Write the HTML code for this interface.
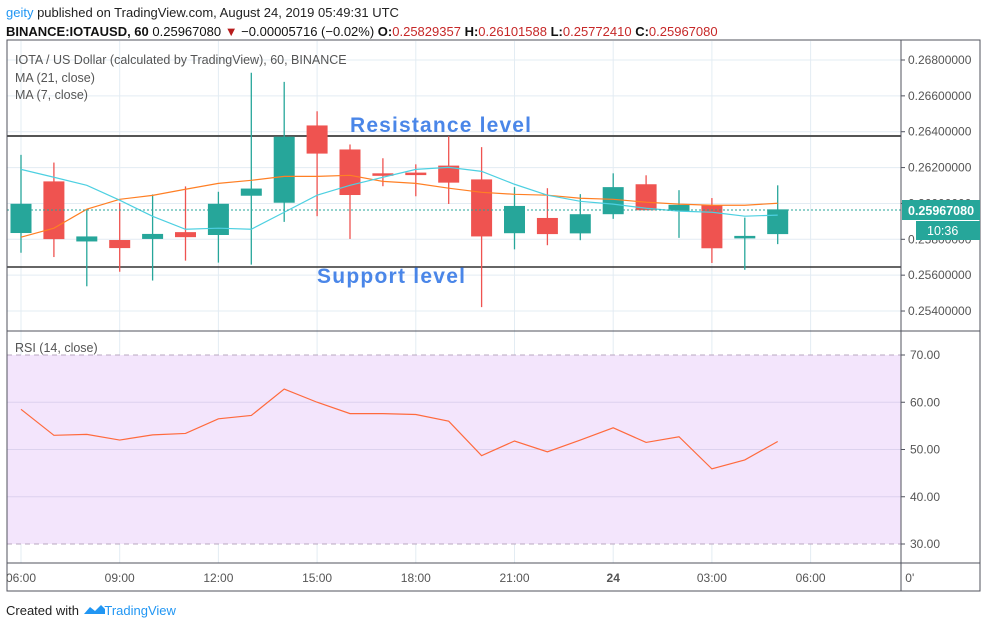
<!DOCTYPE html>
<html><head><meta charset="utf-8"><style>
body{margin:0;background:#fff;font-family:"Liberation Sans",sans-serif;}
svg text{font-family:"Liberation Sans",sans-serif;}
</style></head><body>
<svg id="c" width="987" height="628" xmlns="http://www.w3.org/2000/svg">
<rect width="987" height="628" fill="#fff"/>
<text x="6" y="17" font-size="13" fill="#222"><tspan fill="#2196f3">geity</tspan> published on TradingView.com, August 24, 2019 05:49:31 UTC</text>
<text x="6" y="36" font-size="13" fill="#111"><tspan font-weight="bold">BINANCE:IOTAUSD, 60</tspan> 0.25967080 <tspan fill="#b71c1c">▼</tspan> −0.00005716 (−0.02%) <tspan font-weight="bold">O:</tspan><tspan fill="#c62828">0.25829357</tspan> <tspan font-weight="bold">H:</tspan><tspan fill="#c62828">0.26101588</tspan> <tspan font-weight="bold">L:</tspan><tspan fill="#c62828">0.25772410</tspan> <tspan font-weight="bold">C:</tspan><tspan fill="#c62828">0.25967080</tspan></text>
<g id="grid"></g>
<rect x="7" y="355" width="894" height="189" fill="#f3e5fc"/>
<g id="grid2"></g>
<line x1="7" y1="355" x2="901" y2="355" stroke="#b9a8c0" stroke-dasharray="5,4"/>
<line x1="7" y1="544" x2="901" y2="544" stroke="#b9a8c0" stroke-dasharray="5,4"/>
<line x1="7" y1="136" x2="901" y2="136" stroke="#555" stroke-width="2"/>
<line x1="7" y1="267" x2="901" y2="267" stroke="#333" stroke-width="1.5"/>
<g id="marks"></g>
<line x1="7" y1="210" x2="901" y2="210" stroke="#26a69a" stroke-dasharray="2,2"/>
<text x="350" y="132" font-size="21" font-weight="bold" fill="#4a86e8" textLength="181" lengthAdjust="spacing">Resistance level</text>
<text x="317" y="283" font-size="21" font-weight="bold" fill="#4a86e8" textLength="148" lengthAdjust="spacing">Support level</text>
<text x="15" y="64" font-size="12.5" fill="#555">IOTA / US Dollar (calculated by TradingView), 60, BINANCE</text>
<text x="15" y="82" font-size="12.5" fill="#555">MA (21, close)</text>
<text x="15" y="99" font-size="12.5" fill="#555">MA (7, close)</text>
<text x="15" y="352" font-size="12.5" fill="#555">RSI (14, close)</text>
<rect x="7" y="40" width="973" height="551" fill="none" stroke="#50535e"/>
<line x1="901" y1="40" x2="901" y2="591" stroke="#50535e"/>
<line x1="7" y1="331" x2="980" y2="331" stroke="#50535e"/>
<line x1="7" y1="563" x2="980" y2="563" stroke="#50535e"/>
<g id="axes"></g>
<rect x="902" y="200" width="78" height="20" fill="#26a69a"/>
<text x="908" y="215" font-size="12.5" font-weight="bold" fill="#fff">0.25967080</text>
<rect x="916" y="221" width="64" height="19" fill="#26a69a"/>
<text x="927" y="235" font-size="12.5" fill="#fff">10:36</text>
<text x="6" y="615" font-size="13" fill="#222">Created with <tspan fill="#2196f3" dx="22">TradingView</tspan></text>
<path d="M84 614 l6 -7 l5 4 l6 -6 l4 4 v5z" fill="#2196f3"/>
</svg>
<script>
const opens=[0.25835,0.26123,0.25788,0.25796,0.25802,0.25840,0.25824,0.26043,0.26004,0.26435,0.26301,0.26168,0.26172,0.26211,0.26134,0.25834,0.25919,0.25833,0.25940,0.26107,0.25958,0.25989,0.25808,0.25829];
const highs=[0.26271,0.26228,0.25963,0.26003,0.26050,0.26095,0.26065,0.26729,0.26678,0.26514,0.26329,0.26252,0.26218,0.26375,0.26314,0.26091,0.26085,0.26052,0.26168,0.26157,0.26074,0.26030,0.25921,0.26101];
const lows=[0.25725,0.25701,0.25538,0.25619,0.25570,0.25681,0.25670,0.25659,0.25897,0.25929,0.25802,0.26096,0.26040,0.25997,0.25422,0.25744,0.25767,0.25795,0.25914,0.25990,0.25808,0.25668,0.25630,0.25773];
const closes=[0.25998,0.25801,0.25816,0.25751,0.25830,0.25812,0.25998,0.26083,0.26372,0.26278,0.26047,0.26157,0.26161,0.26116,0.25816,0.25986,0.25829,0.25940,0.26091,0.25962,0.25992,0.25750,0.25819,0.25967];
const ma7=[0.26190,0.26146,0.26101,0.26018,0.25928,0.25856,0.25862,0.25856,0.25951,0.26046,0.26101,0.26146,0.26190,0.26201,0.26179,0.26107,0.26046,0.26012,0.25996,0.25973,0.25957,0.25951,0.25929,0.25935];
const ma21=[0.25812,0.25862,0.25968,0.26023,0.26045,0.26079,0.26112,0.26129,0.26151,0.26151,0.26157,0.26123,0.26112,0.26085,0.26062,0.26051,0.26046,0.26029,0.26023,0.26007,0.25996,0.25990,0.25990,0.26001];
const rsi=[58.5,53,53.2,52,53.1,53.4,56.5,57.2,62.8,60,57.6,57.6,57.4,56,48.7,51.8,49.5,52,54.6,51.5,52.7,45.9,47.8,51.7];
const priceTicks=[0.268,0.266,0.264,0.262,0.260,0.258,0.256,0.254];
const rsiTicks=[70,60,50,40,30];
const timeLabels=["06:00","09:00","12:00","15:00","18:00","21:00","24","03:00","06:00","0'"];
const NS="http://www.w3.org/2000/svg";
const X=i=>21+i*32.9;
const Y=v=>60+(0.268-v)/0.002*35.86;
const R=v=>355+(70-v)/10*47.25;
function el(t,a,p){const e=document.createElementNS(NS,t);for(const k in a)e.setAttribute(k,a[k]);document.getElementById(p).appendChild(e);return e;}
priceTicks.forEach(v=>{const g=el('line',{x1:7,x2:901,y1:Y(v),y2:Y(v),stroke:'#e3ecf3'},'grid');


const t=el('text',{x:908,y:Y(v)+4,'font-size':12,fill:'#555'},'axes');t.textContent=v.toFixed(8);


el('line',{x1:901,x2:905,y1:Y(v),y2:Y(v),stroke:'#50535e'},'axes');});
rsiTicks.forEach(v=>{if(v!=70&&v!=30){const g=el('line',{x1:7,x2:901,y1:R(v),y2:R(v),stroke:'#dcd2ee'},'grid2');

}
const t=el('text',{x:910,y:R(v)+4,'font-size':12,fill:'#555'},'axes');t.textContent=v.toFixed(2);


el('line',{x1:901,x2:905,y1:R(v),y2:R(v),stroke:'#50535e'},'axes');});
timeLabels.forEach((s,k)=>{const x=X(k*3);
if(k<9){const g=el('line',{x1:x,x2:x,y1:41,y2:563,stroke:'#e3ecf3'},'grid');

}
const t=el('text',{x:k==9?x-4:x,y:582,'font-size':12,fill:'#555','text-anchor':k==9?'start':'middle','font-weight':s=='24'?'bold':'normal'},'axes');t.textContent=s;

});
opens.forEach((o,i)=>{const c=closes[i],up=c>=o,col=up?'#26a69a':'#ef5350',x=X(i);
const w=el('line',{x1:x,x2:x,y1:Y(highs[i]),y2:Y(lows[i]),stroke:col,'stroke-width':1.3},'marks');


const top=Y(Math.max(o,c)),h=Math.max(Y(Math.min(o,c))-top,2.5);
const b=el('rect',{x:x-10.5,y:top,width:21,height:h,fill:col},'marks');

});
function line(arr,f,col,name){const p=el('polyline',{points:arr.map((v,i)=>X(i)+','+f(v)).join(' '),fill:'none',stroke:col,'stroke-width':1.2},'marks');

}
line(ma21,Y,'#ff7f24','ma21-line');
line(ma7,Y,'#4dd0e1','ma7-line');
line(rsi,R,'#ff6a3d','rsi-line');
</script>
</body></html>
